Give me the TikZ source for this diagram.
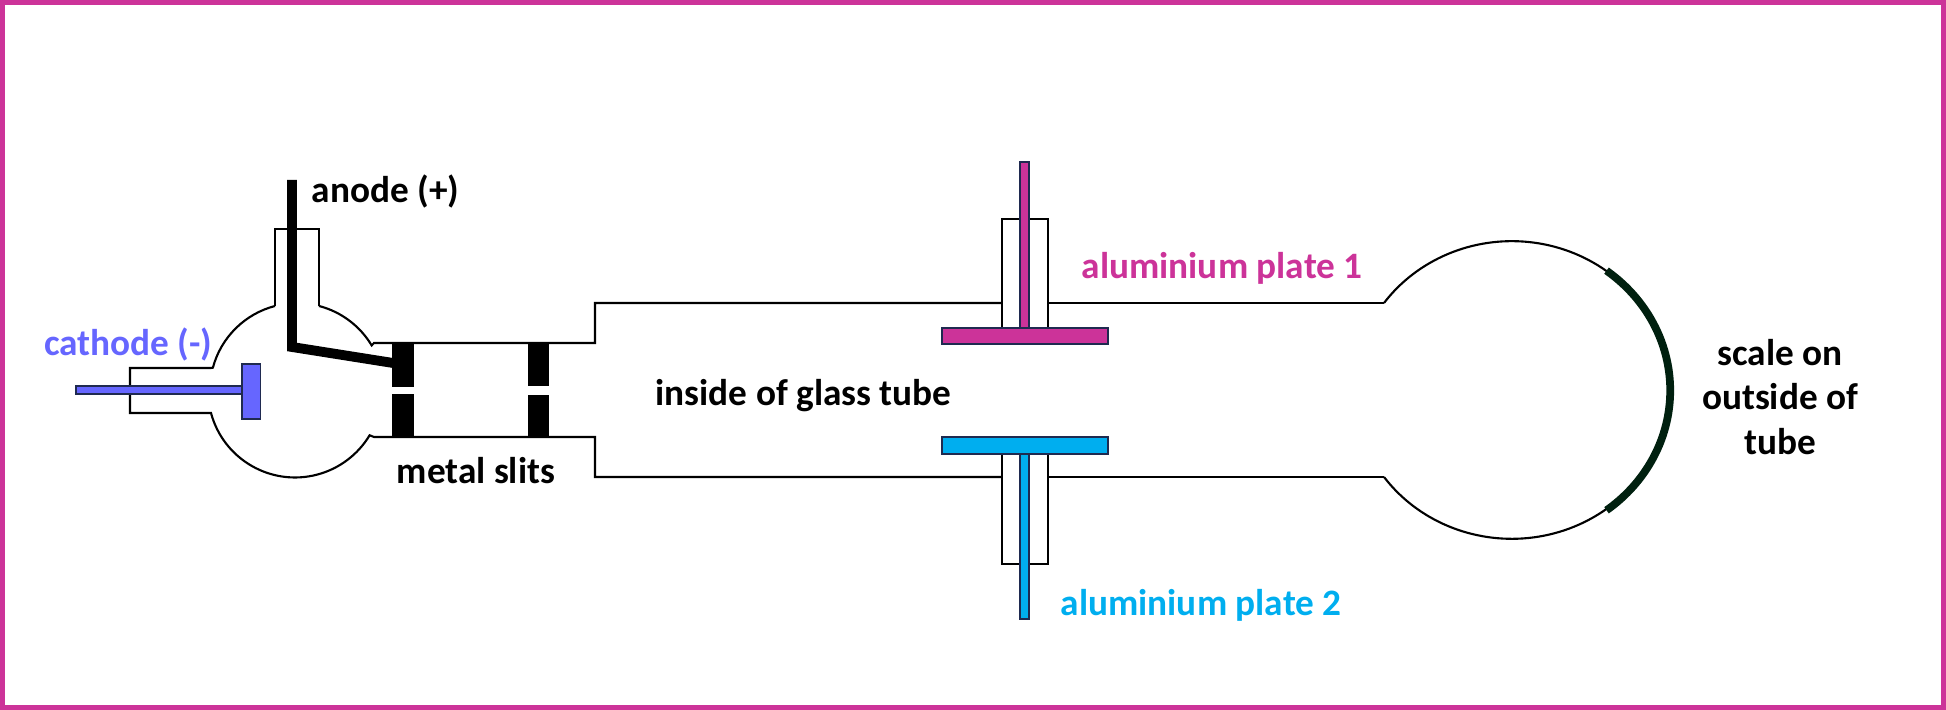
\documentclass[tikz,border=0pt]{standalone}
\usepackage{fontspec}
\setmainfont{Carlito}
\usetikzlibrary{positioning}
\definecolor{framepink}{HTML}{CC3399}
\definecolor{cathodeblue}{HTML}{6666FF}
\definecolor{plateblue}{HTML}{00AEEF}
\definecolor{edgenavy}{HTML}{1F2A50}
\definecolor{scalegreen}{HTML}{00200F}
\tikzset{
  glass/.style={line width=0.6pt,black},
  metal/.style={line width=0.5pt,draw=edgenavy},
  slit/.style={fill=black,draw=none},
  lbl/.style={anchor=base west,inner sep=0pt,font=\fontsize{10.6}{12.7}\selectfont\bfseries}
}

\begin{document}
\begin{tikzpicture}[x=0.01cm,y=0.01cm]
  \useasboundingbox (0,0) rectangle (1946,710);
  \draw[line width=1.42pt,framepink] (2.5,2.5) rectangle (1943.5,707.5);
  % Electron gun
  \draw[glass] (275,404) arc[start angle=104.6,end angle=165,radius=87]
    -- (211,342) -- (130,342) -- (130,297) -- (211,297)
    arc[start angle=195,end angle=329,radius=87]
    -- (374,273) -- (595,273) -- (595,233) -- (1002,233);
  \draw[glass] (319,404) arc[start angle=75.4,end angle=31,radius=87]
    -- (374,367) -- (595,367) -- (595,407) -- (1002,407);
  \draw[glass] (275,404) -- (275,481) -- (319,481) -- (319,404);
  \fill[slit] (392,367) rectangle (413.5,323);
  \fill[slit] (392,316) rectangle (413.5,273);
  \fill[slit] (528,367) rectangle (549,324);
  \fill[slit] (528,315) rectangle (549,273);
  \draw[line width=2.8pt,black,line join=miter] (292,530) -- (292,363) -- (393,347);
  \draw[metal,fill=cathodeblue] (76,316) rectangle (242,324);
  \draw[metal,fill=cathodeblue] (242,291) rectangle (260.5,346);
  % Deflecting plates
  \draw[glass] (1002,382) -- (1002,491) -- (1048,491) -- (1048,382);
  \draw[glass] (1002,256) -- (1002,146) -- (1048,146) -- (1048,256);
  \draw[glass] (1048,407) -- (1384,407);
  \draw[glass] (1048,233) -- (1384,233);
  \draw[metal,fill=framepink] (1020,548) rectangle (1029,382);
  \draw[metal,fill=framepink] (942,382) rectangle (1108,366);
  \draw[metal,fill=plateblue] (1020,256) rectangle (1029,91);
  \draw[metal,fill=plateblue] (942,273) rectangle (1108,256);
  % Screen
  \draw[glass] (1384,407) arc[start angle=144,end angle=53,x radius=158,y radius=150];
  \draw[glass] (1384,233) arc[start angle=216,end angle=307,x radius=158,y radius=150];
  \draw[line width=2.2pt,scalegreen] (1606.5,439.3) arc[start angle=53,end angle=-53,x radius=160,y radius=150];
  % Labels
  \node[lbl] (anode) at (311,507.5) {anode (+)};
  \node[lbl,cathodeblue] (cathode) at (43.5,354.5) {cathode (-)};
  \node[lbl] (slits) at (396,226.5) {metal slits};
  \node[lbl] (inside) at (655,304.5) {inside of glass tube};
  \node[lbl,framepink] (plate1) at (1081,431.5) {aluminium plate 1};
  \node[lbl,plateblue] (plate2) at (1060,94.5) {aluminium plate 2};
  \node[lbl,anchor=center,align=center] (scale) at (1780,313) {scale on\\outside of\\tube};
\end{tikzpicture}
\end{document}
